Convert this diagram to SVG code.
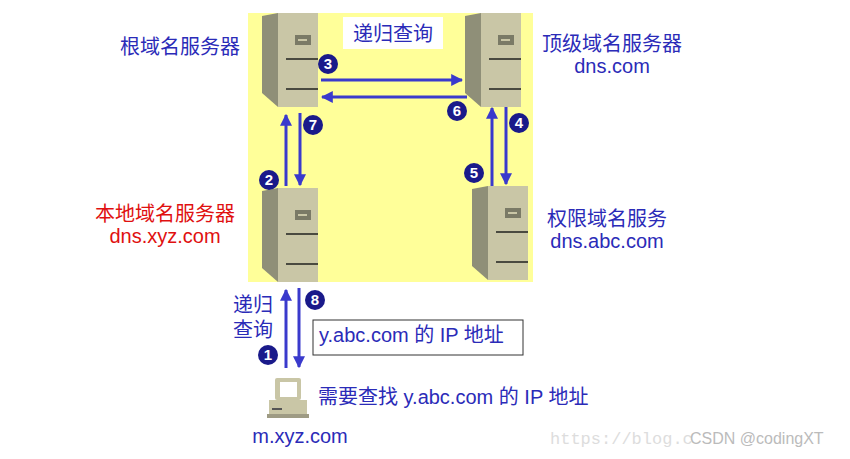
<svg xmlns="http://www.w3.org/2000/svg" width="850" height="459" viewBox="0 0 850 459">
<style>
text{font-family:"Liberation Sans","Noto Sans CJK SC",sans-serif;}
.lb{fill:#2b2bb8;font-size:20px;}
.red{fill:#e01010;font-size:20px;}
.ar{stroke:#3a3acc;stroke-width:3;fill:none;marker-end:url(#ah);}
.num{fill:#1a1a8a;}
.nt{fill:#fff;font-size:15px;font-weight:bold;text-anchor:middle;}
</style>
<defs>
<marker id="ah" viewBox="0 0 10 10" refX="9" refY="5" markerWidth="4" markerHeight="4" orient="auto"><path d="M0,0L10,5L0,10z" fill="#3a3acc"/></marker>
<symbol id="srv" viewBox="0 0 56 94">
<path d="M0,3 L16,0 L56,0 L56,94 L16,94 L0,80 Z" fill="#8f8f78"/>
<rect x="16" y="0" width="40" height="94" fill="#c9c6a6"/>
<rect x="33" y="22" width="16" height="10" fill="#7a7a66"/>
<rect x="36" y="26" width="9" height="2" fill="#c9c6a6"/>
<rect x="24" y="45" width="32" height="2" fill="#4a4a40"/>
<rect x="24" y="75" width="32" height="2" fill="#4a4a40"/>
</symbol>
</defs>
<rect width="850" height="459" fill="#fff"/>
<rect x="248" y="13" width="285" height="269" fill="#ffff99"/>
<rect x="343" y="17" width="100" height="32" fill="#fff"/>
<text x="393" y="41" class="lb" text-anchor="middle">递归查询</text>
<g id="root"><use href="#srv" x="262" y="13" width="56" height="94"/><text x="180" y="54" class="lb" text-anchor="middle">根域名服务器</text></g>
<g id="tld"><use href="#srv" x="465" y="13" width="56" height="94"/><text x="612" y="51" class="lb" text-anchor="middle">顶级域名服务器</text><text x="612" y="73" class="lb" text-anchor="middle">dns.com</text></g>
<g id="local"><use href="#srv" x="262" y="188" width="56" height="94"/><text x="165" y="221" class="red" text-anchor="middle">本地域名服务器</text><text x="165" y="243" class="red" text-anchor="middle">dns.xyz.com</text></g>
<g id="auth"><use href="#srv" x="472" y="186" width="56" height="94"/><text x="607" y="226" class="lb" text-anchor="middle">权限域名服务</text><text x="607" y="248" class="lb" text-anchor="middle">dns.abc.com</text></g>
<g id="host">
<rect x="275" y="378" width="26" height="22" fill="#c9c6a6" rx="2"/><rect x="280" y="382" width="17" height="15" fill="#fff"/>
<rect x="269" y="400" width="38" height="14" fill="#c9c6a6"/><rect x="272" y="408" width="10" height="2" fill="#555"/>
<rect x="267" y="414" width="42" height="4" fill="#9e9b84"/>
<text x="300" y="443" class="lb" text-anchor="middle">m.xyz.com</text>
<text x="318" y="404" class="lb">需要查找 y.abc.com 的 IP 地址</text>
</g>
<g id="resp"><rect x="313" y="320" width="210" height="35" fill="#fff" stroke="#333"/><text x="319" y="342" class="lb">y.abc.com 的 IP 地址</text></g>
<text x="233" y="312" class="lb">递归</text><text x="233" y="337" class="lb">查询</text>
<g id="connectors">
<line x1="321" y1="80" x2="462" y2="80" class="ar"/>
<line x1="467" y1="97" x2="322" y2="97" class="ar"/>
<line x1="286" y1="186" x2="286" y2="115" class="ar"/>
<line x1="300" y1="113" x2="300" y2="185" class="ar"/>
<line x1="492" y1="186" x2="492" y2="108" class="ar"/>
<line x1="506" y1="107" x2="506" y2="184" class="ar"/>
<line x1="286" y1="368" x2="286" y2="290" class="ar"/>
<line x1="299" y1="288" x2="299" y2="367" class="ar"/>
</g>
<g id="nums">
<circle cx="328" cy="64" r="10" class="num"/><text x="328" y="69" class="nt">3</text>
<circle cx="457" cy="111" r="10" class="num"/><text x="457" y="116" class="nt">6</text>
<circle cx="313" cy="125" r="10" class="num"/><text x="313" y="130" class="nt">7</text>
<circle cx="519" cy="123" r="10" class="num"/><text x="519" y="128" class="nt">4</text>
<circle cx="269" cy="180" r="10" class="num"/><text x="269" y="185" class="nt">2</text>
<circle cx="474" cy="173" r="10" class="num"/><text x="474" y="178" class="nt">5</text>
<circle cx="315" cy="300" r="10" class="num"/><text x="315" y="305" class="nt">8</text>
<circle cx="268" cy="355" r="10" class="num"/><text x="268" y="360" class="nt">1</text>
</g>
<text x="550" y="444" font-size="17" fill="#ddd" style="font-family:'Liberation Mono',monospace">https://blog.c</text>
<text x="690" y="444" font-size="16" fill="#bbb">CSDN @codingXT</text>
</svg>
